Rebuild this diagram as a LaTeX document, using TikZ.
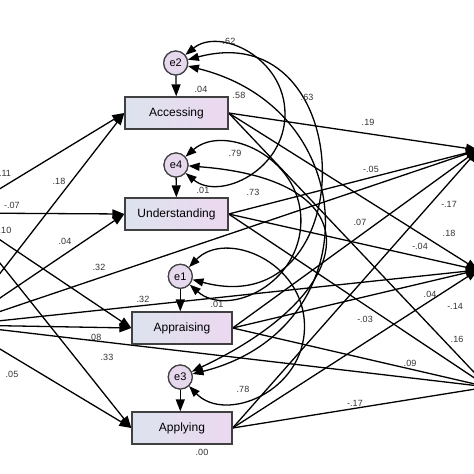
\documentclass[tikz,border=0pt]{standalone}
\usepackage{fontspec}
\setmainfont{Liberation Sans}
\usetikzlibrary{arrows.meta}
\definecolor{boxL}{RGB}{221,227,238}
\definecolor{boxR}{RGB}{236,216,240}
\definecolor{errfill}{RGB}{230,217,238}
\begin{document}
\begin{tikzpicture}[x=1pt,y=-1pt,
  pth/.style={line width=1.3pt, -{Triangle[length=12pt,width=9pt]}},
  cov/.style={line width=1.3pt, {Triangle[length=11pt,width=8pt]}-{Triangle[length=11pt,width=8pt]}},
  obs/.style={draw=black!75, line width=1.3pt, left color=boxL, right color=boxR, minimum width=103pt, minimum height=32pt, inner sep=0pt, font=\fontsize{12}{13}\selectfont},
  err/.style={circle, draw=black!75, line width=1.2pt, fill=errfill, minimum size=24pt, inner sep=0pt, font=\fontsize{11}{12}\selectfont},
  lab/.style={font=\fontsize{9}{10}\selectfont, text=black!80, inner sep=0pt}]
\useasboundingbox (0,0) rectangle (474,474);
\clip (0,0) rectangle (474,474);
\fill[white] (0,0) rectangle (474,474);
% off-canvas sources and targets
\coordinate (S1) at (-40,213);
\coordinate (S2) at (-40,325);
\coordinate (T1) at (478,150);
\coordinate (T2) at (478,270);
\coordinate (T3) at (488,387);
% error circles
\node[err] (e2) at (175.7,63) {e2};
\node[err] (e4) at (176,165) {e4};
\node[err] (e1) at (180.3,276.3) {e1};
\node[err] (e3) at (180.3,377) {e3};
% boxes (positions)
\path (176.5,113) node[obs] (acc) {Accessing};
\path (176.5,214) node[obs] (und) {Understanding};
\path (182,328) node[obs, minimum width=100pt] (app) {Appraising};
\path (182,428) node[obs, minimum width=100pt] (apl) {Applying};
% covariance arcs
\coordinate (m24) at (285,114);
\coordinate (m41) at (300.9,220.5);
\coordinate (m13) at (304.5,326.5);
\draw[cov] (e2) .. controls (219.3,26.8) and (285,57.6) .. (m24) .. controls (285,170.4) and (219.3,201.2) .. (e4);
\draw[cov] (e4) .. controls (223.8,122.9) and (300.9,156.8) .. (m41) .. controls (300.9,284.2) and (227.8,318.1) .. (e1);
\draw[cov] (e1) .. controls (225.4,229.3) and (304.5,261.4) .. (m13) .. controls (304.5,391.6) and (225.4,423.7) .. (e3);
\draw[cov] (e2) .. controls (361,13) and (365,326) .. (e1);
\draw[cov] (e2) .. controls (365,110) and (369,330) .. (e3);
\draw[cov] (e4) .. controls (376,180) and (361,292) .. (e3);
% source paths
\draw[pth] (S1) -- (acc.west);
\draw[pth] (S1) -- (und.west);
\draw[pth] (S1) -- (app.west);
\draw[pth] (S1) -- (apl.west);
\draw[pth] (S2) -- (acc.west);
\draw[pth] (S2) -- (und.west);
\draw[pth] (S2) -- (app.west);
\draw[pth] (S2) -- (apl.west);
\draw[pth] (S2) -- (T1);
\draw[pth] (S2) -- (T2);
\draw[pth] (S2) -- (T3);
% mediator paths
\foreach \m in {acc,und,app,apl}{
  \draw[pth] (\m.east) -- (T1);
  \draw[pth] (\m.east) -- (T2);
  \draw[pth] (\m.east) -- (T3);
}
% residual arrows
\draw[pth] (e2) -- (acc);
\draw[pth] (e4) -- (und);
\draw[pth] (e1.south) -- (e1.south |- app.north);
\draw[pth] (e3.south) -- (e3.south |- apl.north);
% redraw nodes on top
\node[err] at (e2) {e2};
\node[err] at (e4) {e4};
\node[err] at (e1) {e1};
\node[err] at (e3) {e3};
\node[obs] at (acc) {Accessing};
\node[obs] at (und) {Understanding};
\node[obs, minimum width=100pt] at (app) {Appraising};
\node[obs, minimum width=100pt] at (apl) {Applying};
% labels
\node[lab] (l1) at (201,89) {.04};
\node[lab] (l2) at (203,190) {.01};
\node[lab] (l3) at (217,304) {.01};
\node[lab] (l4) at (202,452) {.00};
\node[lab] (l5) at (229,41) {.62};
\node[lab] (l6) at (239,95) {.58};
\node[lab] (l7) at (307,97) {.63};
\node[lab] (l8) at (235,153) {.79};
\node[lab] (l9) at (253,192) {.73};
\node[lab] (l10) at (243,389) {.78};
\node[lab] (l11) at (368,122) {.19};
\node[lab] (l12) at (371,169) {-.05};
\node[lab] (l13) at (360,222) {.07};
\node[lab] (l14) at (449,204) {-.17};
\node[lab] (l15) at (449,233) {.18};
\node[lab] (l16) at (420,246) {-.04};
\node[lab] (l17) at (430,294) {.04};
\node[lab] (l18) at (455,306) {-.14};
\node[lab] (l19) at (365,319) {-.03};
\node[lab] (l20) at (457,339) {.16};
\node[lab] (l21) at (410,363) {.09};
\node[lab] (l22) at (355,403) {-.17};
\node[lab] (l23) at (5,173) {.11};
\node[lab] (l24) at (59,181) {.18};
\node[lab] (l25) at (12,205) {-.07};
\node[lab] (l26) at (5,230) {.10};
\node[lab] (l27) at (65,241) {.04};
\node[lab] (l28) at (99,267) {.32};
\node[lab] (l29) at (143,299) {.32};
\node[lab] (l30) at (95,337) {.08};
\node[lab] (l31) at (107,357) {.33};
\node[lab] (l32) at (12,374) {.05};
\end{tikzpicture}
\end{document}
